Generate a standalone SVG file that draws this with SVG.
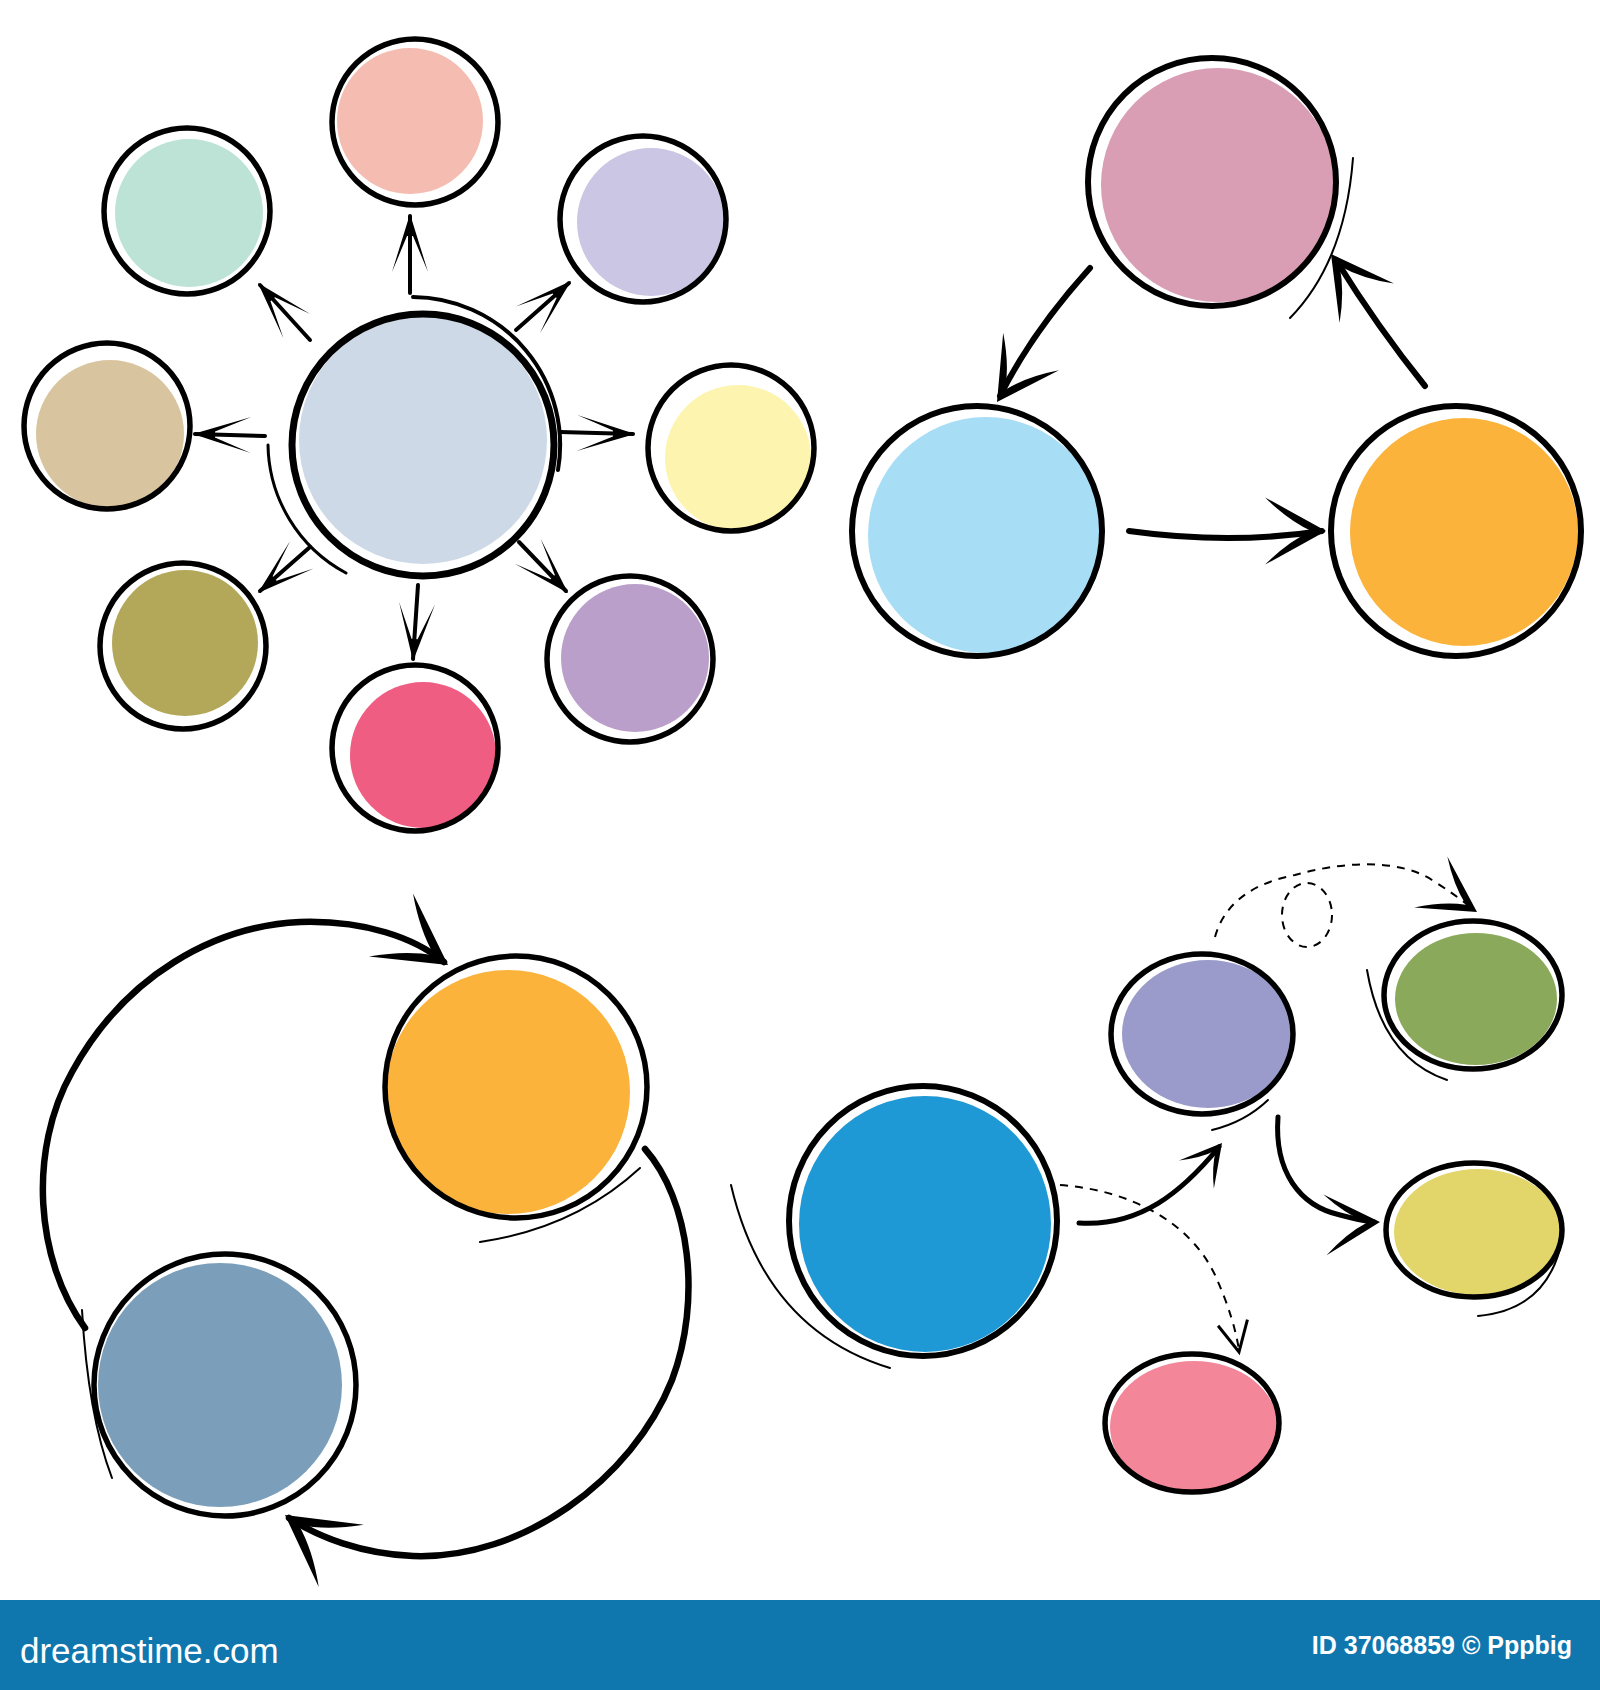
<svg xmlns="http://www.w3.org/2000/svg" xmlns:xlink="http://www.w3.org/1999/xlink" width="1600" height="1690" viewBox="0 0 1600 1690">
<style>
.rg{fill:none;stroke:#000;stroke-width:5.5}
.rgb{fill:none;stroke:#000;stroke-width:6}
.sk{fill:none;stroke:#000;stroke-width:2;stroke-linecap:round}
.sh{fill:none;stroke:#000;stroke-width:4;stroke-linecap:round}
.st{fill:none;stroke:#000;stroke-width:6;stroke-linecap:round}
.ds{fill:none;stroke:#000;stroke-width:2;stroke-dasharray:8 7}
.hd{fill:#000}
.ft{font-family:"Liberation Sans",Arial,sans-serif;fill:#fff}
</style>
<defs>
<path id="hh" d="M0,0 L-58,-18 L-22,-3 L-22,3 L-58,18 Z"/>
<path id="th" d="M0,0 L-58,-32 Q-36,-10 -14,0 Q-36,10 -58,32 Z"/>
<path id="vh" d="M-30,-15 L0,0 L-30,15" fill="none" stroke="#000" stroke-width="3"/>
</defs>
<rect width="1600" height="1690" fill="#fff"/>

<!-- Group 1: hub -->
<g id="hub">
<circle cx="423" cy="440" r="124" fill="#cdd9e6"/>
<circle class="rg" cx="423" cy="445" r="131" style="stroke-width:7"/>
<path class="sk" style="stroke-width:4" d="M413,297 A148,148 0 0 1 558,470"/>
<path class="sk" style="stroke-width:3" d="M268,445 A148,148 0 0 0 346,573"/>
</g>
<g id="n-pink"><circle cx="410" cy="121" r="73" fill="#f5bcb1"/><circle class="rg" cx="415" cy="122" r="83"/></g>
<g id="n-teal"><circle cx="189" cy="213" r="74" fill="#bde3d6"/><circle class="rg" cx="187" cy="211" r="83"/></g>
<g id="n-lav"><circle cx="651" cy="222" r="74" fill="#cac6e4"/><circle class="rg" cx="643" cy="219" r="83"/></g>
<g id="n-tan"><circle cx="110" cy="434" r="74" fill="#d8c5a0"/><circle class="rg" cx="107" cy="426" r="83"/></g>
<g id="n-yel"><circle cx="738" cy="458" r="73" fill="#fdf4b0"/><circle class="rg" cx="731" cy="448" r="83"/></g>
<g id="n-olive"><circle cx="185" cy="643" r="73" fill="#b3a85a"/><circle class="rg" cx="183" cy="646" r="83"/></g>
<g id="n-red"><circle cx="423" cy="755" r="73" fill="#f05d82"/><circle class="rg" cx="415" cy="748" r="83"/></g>
<g id="n-purp"><circle cx="635" cy="658" r="74" fill="#bb9fcb"/><circle class="rg" cx="630" cy="659" r="83"/></g>

<!-- Group 2: triangle -->
<g id="t-mauve"><circle cx="1218" cy="185" r="117" fill="#d99eb4"/><circle class="rgb" cx="1212" cy="182" r="124"/><path class="sk" d="M1353,158 Q1345,262 1290,318"/></g>
<g id="t-blue"><circle cx="986" cy="535" r="118" fill="#a7def6"/><circle class="rgb" cx="977" cy="531" r="125"/></g>
<g id="t-orange"><circle cx="1464" cy="532" r="114" fill="#fbb33b"/><circle class="rgb" cx="1456" cy="531" r="125"/></g>

<!-- Group 3: cycle -->
<g id="c-orange"><circle cx="508" cy="1092" r="122" fill="#fbb33b"/><circle class="rg" cx="516" cy="1087" r="131"/><path class="sk" d="M480,1242 Q575,1228 640,1168"/></g>
<g id="c-steel"><circle cx="220" cy="1385" r="122" fill="#7b9fbb"/><circle class="rg" cx="225" cy="1385" r="131"/><path class="sk" d="M82,1310 Q88,1415 112,1478"/></g>

<!-- Group 4: flow -->
<g id="f-big"><ellipse cx="925" cy="1224" rx="126" ry="128" fill="#1f99d5"/><ellipse class="rgb" cx="923" cy="1221" rx="134" ry="135"/><path class="sk" d="M731,1185 Q765,1330 890,1368"/></g>
<g id="f-peri"><ellipse cx="1208" cy="1034" rx="86" ry="74" fill="#9a9bca"/><ellipse class="rg" cx="1202" cy="1034" rx="91" ry="80"/><path class="sk" d="M1212,1130 Q1245,1122 1268,1100"/></g>
<g id="f-green"><ellipse cx="1476" cy="999" rx="81" ry="66" fill="#8aa95b"/><ellipse class="rg" cx="1473" cy="995" rx="89" ry="74"/><path class="sk" d="M1367,970 Q1382,1058 1447,1080"/></g>
<g id="f-yellow"><ellipse cx="1478" cy="1232" rx="84" ry="63" fill="#e2d56a"/><ellipse class="rg" cx="1474" cy="1230" rx="88" ry="67"/><path class="sk" d="M1478,1316 Q1548,1310 1562,1240"/></g>
<g id="f-pink"><ellipse cx="1194" cy="1427" rx="84" ry="66" fill="#f38799"/><ellipse class="rg" cx="1192" cy="1423" rx="87" ry="69"/></g>

<g id="connectors">
<!-- hub arrows -->
<line class="sh" x1="410" y1="293" x2="410" y2="216"/><use href="#hh" class="hd" transform="translate(410,214) rotate(-90)"/>
<line class="sh" x1="310" y1="340" x2="260" y2="285"/><use href="#hh" class="hd" transform="translate(258,283) rotate(-132)"/>
<line class="sh" x1="516" y1="330" x2="569" y2="283"/><use href="#hh" class="hd" transform="translate(571,281) rotate(-42)"/>
<line class="sh" x1="265" y1="436" x2="195" y2="434"/><use href="#hh" class="hd" transform="translate(193,434) rotate(181)"/>
<line class="sh" x1="560" y1="432" x2="633" y2="434"/><use href="#hh" class="hd" transform="translate(635,434) rotate(1)"/>
<line class="sh" x1="310" y1="547" x2="260" y2="591"/><use href="#hh" class="hd" transform="translate(258,593) rotate(139)"/>
<line class="sh" x1="418" y1="585" x2="413" y2="659"/><use href="#hh" class="hd" transform="translate(413,661) rotate(94)"/>
<line class="sh" x1="519" y1="542" x2="566" y2="591"/><use href="#hh" class="hd" transform="translate(568,593) rotate(46)"/>

<!-- triangle arrows -->
<path class="st" d="M1090,268 C1052,310 1022,352 1000,396"/><use href="#th" class="hd" transform="translate(997,402) rotate(124) scale(1.05)"/>
<path class="st" d="M1129,531 Q1230,545 1322,531"/><use href="#th" class="hd" transform="translate(1326,531) rotate(0) scale(1.05)"/>
<path class="st" d="M1425,386 C1392,345 1362,302 1336,260"/><use href="#th" class="hd" transform="translate(1331,254) rotate(-126) scale(1.05)"/>

<!-- cycle arrows -->
<path class="st" style="stroke-width:6.5" d="M85,1328 C35,1260 28,1150 72,1072 C125,975 215,926 300,922 C365,920 415,938 444,962"/><use href="#th" class="hd" transform="translate(448,965) rotate(35) scale(1.2)"/>
<path class="st" style="stroke-width:6.5" d="M645,1149 C690,1200 702,1300 672,1380 C632,1480 522,1560 413,1556 C362,1554 318,1537 289,1518"/><use href="#th" class="hd" transform="translate(285,1515) rotate(216) scale(1.2)"/>

<!-- flow arrows -->
<path class="st" style="stroke-width:5" d="M1079,1223 C1140,1227 1182,1192 1219,1147"/><use href="#th" class="hd" transform="translate(1222,1143) rotate(-51) scale(0.7)"/>
<path class="st" style="stroke-width:5" d="M1278,1117 C1274,1172 1300,1206 1340,1215 C1355,1219 1366,1221 1374,1222"/><use href="#th" class="hd" transform="translate(1380,1222) rotate(-3) scale(0.95)"/>
<path class="ds" d="M1060,1185 C1130,1190 1190,1222 1215,1275 C1230,1308 1236,1332 1239,1350"/><use href="#vh" transform="translate(1239,1352) rotate(78)"/>
<path class="ds" d="M1215,937 C1225,900 1258,882 1295,875 C1340,862 1398,858 1432,880 C1448,890 1462,900 1474,910"/>
<ellipse class="ds" cx="1307" cy="915" rx="25" ry="32"/>
<use href="#th" class="hd" transform="translate(1477,912) rotate(33) scale(0.95)"/>
</g>

<!-- footer -->
<rect x="0" y="1600" width="1600" height="90" fill="#0f76ae"/>
<text class="ft" x="20" y="1663" font-size="35">dreamstime.com</text>
<text class="ft" x="1572" y="1654" font-size="25" font-weight="bold" text-anchor="end">ID 37068859 © Pppbig</text>
</svg>
